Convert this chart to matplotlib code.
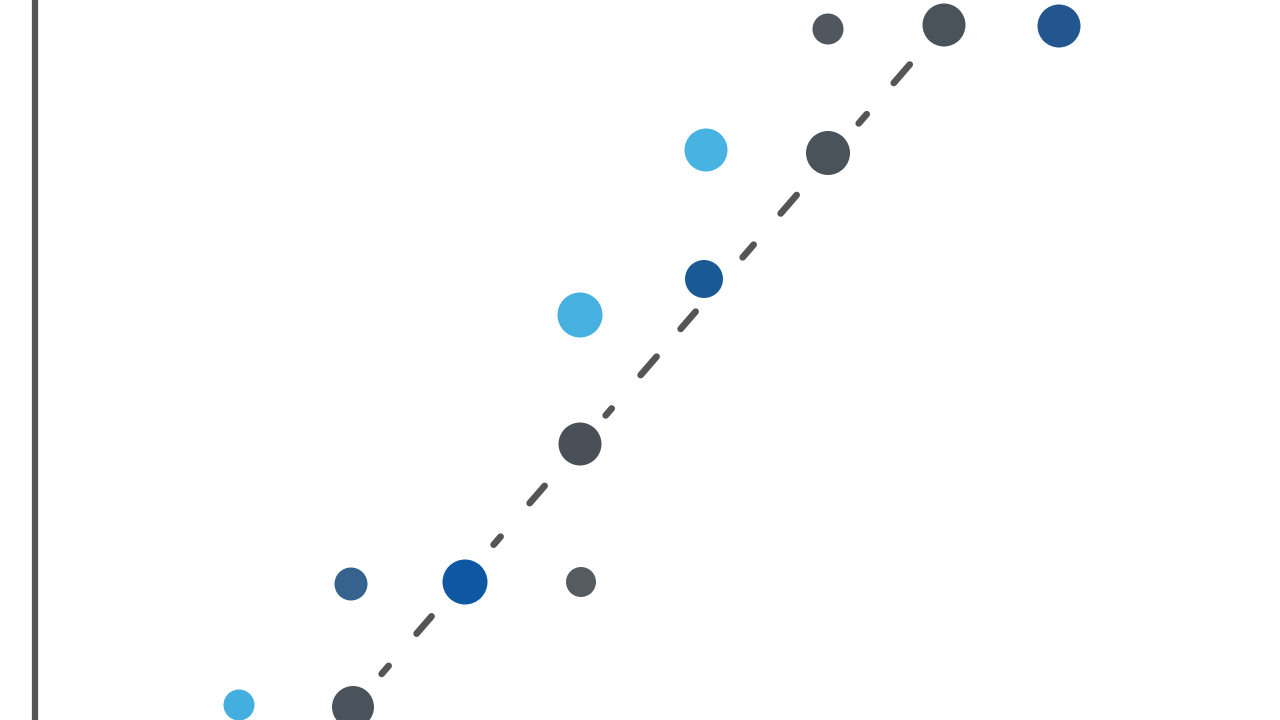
import matplotlib.pyplot as plt

plt.rcParams["lines.scale_dashes"] = False

# point positions (arbitrary units)
x_vals = [2.04, 3.18, 3.16, 4.30, 5.46, 5.45, 5.45, 6.69, 6.71, 7.93, 7.93, 9.09, 10.24]
y_vals = [0.15, 0.13, 1.36, 1.38, 1.38, 2.76, 4.05, 4.41, 5.70, 5.67, 6.91, 6.95, 6.94]
diameters = [31, 42, 33, 45, 30, 43, 45, 38, 43, 44, 31, 43, 43]
colors = [
    "#44aee0", "#4a525b", "#35628e", "#0d57a3", "#555b60", "#4a5058", "#46b0e0",
    "#195a95", "#48b2e2", "#4a525a", "#50575e", "#4b535a", "#23558f",
]

# dashed trend line endpoints
trend_x = [3.18, 9.09]
trend_y = [0.13, 6.95]

# uneven dash rhythm of the original (points)
trend_dashes = (7.7, 30.7, 16.5, 68.2, 7.7, 31.9, 16.5, 67.1, 6.6, 31.8, 17.6, 26.4,
                16.5, 51.7, 12.1, 29.7, 17.6, 68.2, 8.8, 29.7, 17.6, 139.5)

fig = plt.figure(figsize=(12.8, 7.2), dpi=100)
ax = fig.add_axes([35 / 1280, 0, 1 - 35 / 1280, 1])
ax.set_xlim(0, 12.45)
ax.set_ylim(0, 7.2)

ax.plot(trend_x, trend_y, color="#555555", lw=4.8, linestyle=(688.6, trend_dashes),
        dash_capstyle="round", zorder=1)

sizes = [(d * 0.72) ** 2 for d in diameters]
ax.scatter(x_vals, y_vals, s=sizes, c=colors, linewidths=0, zorder=2)

for side in ["top", "right", "bottom"]:
    ax.spines[side].set_visible(False)
ax.spines["left"].set_linewidth(4.5)
ax.spines["left"].set_color("#555555")
ax.set_xticks([])
ax.set_yticks([])

fig.savefig("out.png", dpi=100)
